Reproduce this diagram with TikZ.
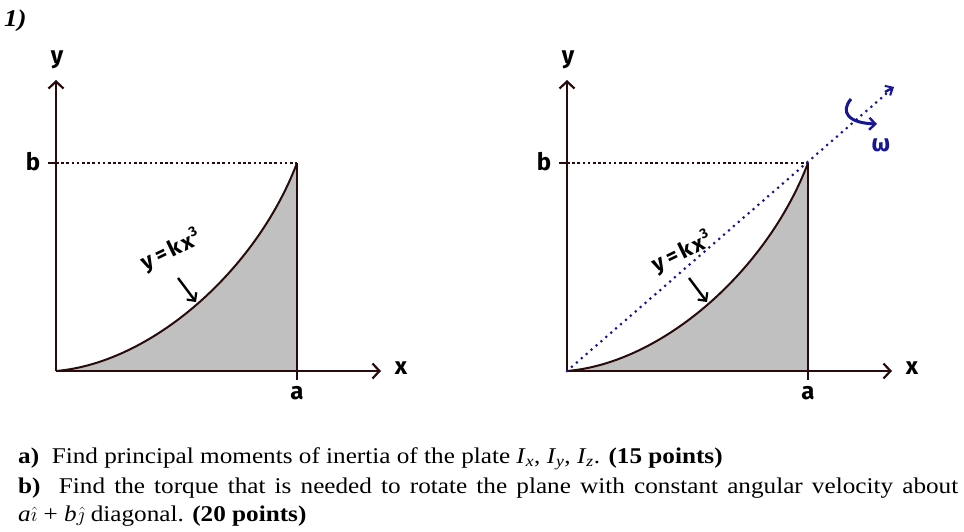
\documentclass[tikz,border=0pt]{standalone}
\usepackage{fontspec}
\setmainfont{Liberation Serif}[FakeStretch=1.12]
\newfontfamily\hand{Fira Sans}[LetterSpace=6]
\usetikzlibrary{arrows.meta}
\definecolor{ink}{RGB}{40,12,12}
\definecolor{plate}{RGB}{192,192,192}
\definecolor{axisblue}{RGB}{22,22,150}
\tikzset{
  axis/.style={draw=ink, line width=2.6pt, -{Straight Barb[length=7pt,width=15pt,line width=2.2pt]}},
  edge/.style={draw=ink, line width=2.4pt},
  curve/.style={draw=ink, line width=2pt},
  dotline/.style={draw=ink, line width=2.6pt, dash pattern=on 2.6pt off 2.6pt},
  handlbl/.style={font=\hand\bfseries\fontsize{24}{24}\selectfont, text=black, inner sep=0pt},
  eqlbl/.style={font=\hand\bfseries\fontsize{22}{22}\selectfont, text=black, inner sep=0pt, rotate=26},
  pointer/.style={draw=black, line width=2.4pt, -{Straight Barb[length=6pt,width=12pt,line width=2.2pt]}},
  diag/.style={draw=axisblue, line width=3pt, line cap=round, dash pattern=on 0pt off 6.5pt},
  bodytxt/.style={anchor=base west, inner sep=0pt, font=\fontsize{22.5}{29}\selectfont}
}
\begin{document}
\begin{tikzpicture}[x=1pt,y=-1pt]
\useasboundingbox (0,0) rectangle (964,532);
\node[anchor=base west, inner sep=0pt, font=\bfseries\itshape\fontsize{24}{24}\selectfont] (title) at (4,27) {1)};
% ---------- left diagram ----------
\coordinate (O1) at (56,371);
\coordinate (A1) at (297,371);
\coordinate (T1) at (297,163);
\coordinate (B1) at (56,163);
\fill[plate] (O1) .. controls (151,363) and (256,271) .. (T1) -- (A1) -- cycle;
\draw[curve] (O1) .. controls (151,363) and (256,271) .. (T1);
\draw[dotline] (B1) -- (T1);
\draw[edge] (T1) -- (297,380);
\draw[edge] (48,163) -- (B1);
\coordinate (Y1) at (56,80);
\coordinate (X1) at (381,371);
\draw[axis] (O1) -- (Y1);
\draw[axis] (O1) -- (X1);
\node[handlbl] (ylab1) at (57,60) {y};
\node[handlbl] (xlab1) at (401,368) {x};
\node[handlbl] (blab1) at (33,162) {b};
\node[handlbl] (alab1) at (297,393) {a};
\node[eqlbl] (eq1) at (171,250) {y\,=\,kx\kern1pt\raisebox{0.45em}{\fontsize{14}{14}\selectfont 3}};
\coordinate (p1s) at (178,278);
\coordinate (p1e) at (196,302);
\draw[pointer] (p1s) -- (p1e);
% ---------- right diagram ----------
\coordinate (O2) at (567,371);
\coordinate (A2) at (808,371);
\coordinate (T2) at (808,163);
\coordinate (B2) at (567,163);
\fill[plate] (O2) .. controls (662,363) and (767,271) .. (T2) -- (A2) -- cycle;
\draw[curve] (O2) .. controls (662,363) and (767,271) .. (T2);
\draw[dotline] (B2) -- (T2);
\draw[edge] (T2) -- (808,380);
\draw[edge] (559,163) -- (B2);
\coordinate (Y2) at (567,80);
\coordinate (X2) at (892,371);
\draw[axis] (O2) -- (Y2);
\draw[axis] (O2) -- (X2);
\node[handlbl] (ylab2) at (568,60) {y};
\node[handlbl] (xlab2) at (912,368) {x};
\node[handlbl] (blab2) at (544,162) {b};
\node[handlbl] (alab2) at (808,393) {a};
% diagonal axis
\coordinate (D2) at (894,87);
\draw[diag] (O2) -- (D2);
\draw[draw=axisblue, line width=2.4pt, -{Straight Barb[length=6pt,width=11pt,line width=2pt]}] (885,92) -- (D2);
\node[eqlbl] (eq2) at (682,252) {y\,=\,kx\kern1pt\raisebox{0.45em}{\fontsize{14}{14}\selectfont 3}};
\coordinate (p2s) at (689,278);
\coordinate (p2e) at (707,302);
\draw[pointer] (p2s) -- (p2e);
% omega
\coordinate (w1) at (851,99);
\coordinate (w2) at (877,124);
\draw[draw=axisblue, line width=3pt, -{Straight Barb[length=6pt,width=12pt,line width=2.4pt]}] (w1) .. controls (840,112) and (848,123) .. (w2);
\node[handlbl, text=axisblue] (wlab) at (881,145) {ω};
% ---------- text ----------
\node[bodytxt] (la) at (18,463) {\textbf{a)}\ \ Find principal moments of inertia of the plate \textit{I}\textsubscript{\textit{x}}, \textit{I}\textsubscript{\textit{y}}, \textit{I}\textsubscript{\textit{z}}. \textbf{(15 points)}};
\node[bodytxt] (lb) at (18,493) {\makebox[940pt][s]{\textbf{b)}\ \ Find the torque that is needed to rotate the plane with constant angular velocity about}};
\node[bodytxt] (lc) at (18,521) {\textit{a}$\hat{\imath}$ + \textit{b}$\hat{\jmath}$ diagonal. \textbf{(20 points)}};
\end{tikzpicture}
\end{document}
